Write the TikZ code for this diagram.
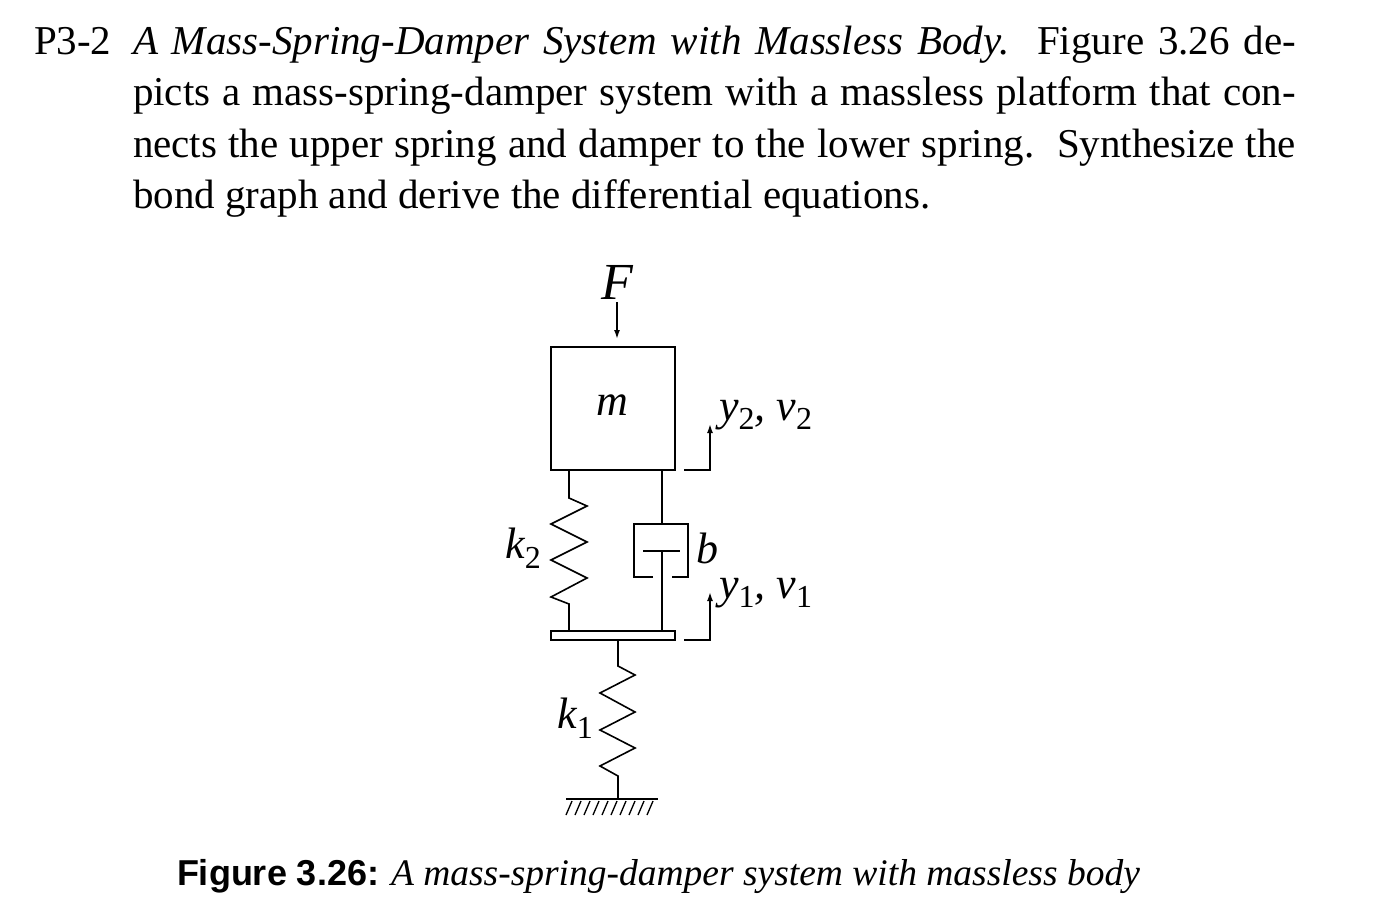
\documentclass[tikz,border=0pt]{standalone}
\usepackage{fontspec}
\setmainfont{Liberation Serif}
\newfontfamily\capsans{Liberation Sans}
\usetikzlibrary{arrows.meta}
\newcommand{\sbs}[1]{\raisebox{-0.22em}{\upshape\fontsize{32}{32}\selectfont #1}}
\begin{document}
\begin{tikzpicture}[x=1pt,y=-1pt,line width=2pt,
  body/.style={font=\fontsize{41}{51}\selectfont,inner sep=0pt,anchor=base west},
  lab/.style={font=\fontsize{44}{44}\selectfont\itshape,inner sep=0pt},
  arr/.style={-{Latex[length=9pt,width=6pt]},line width=1.6pt}]
\useasboundingbox (0,0) rectangle (1392,920);
% paragraph
\node[body] (p0) at (33,55) {P3-2};
\node[body] (l1) at (132,55) {\parbox[b]{1163pt}{\parfillskip=0pt \textit{A Mass-Spring-Damper System with Massless Body.}\ \ Figure 3.26 de-\par}};
\node[body] (l2) at (132,106) {\parbox[b]{1163pt}{\parfillskip=0pt picts a mass-spring-damper system with a massless platform that con-\par}};
\node[body] (l3) at (132,158) {\parbox[b]{1163pt}{\parfillskip=0pt nects the upper spring and damper to the lower spring.\ \ Synthesize the\par}};
\node[body] (l4) at (132,208) {bond graph and derive the differential equations.};
% F
\node[lab,font=\fontsize{52}{52}\selectfont\itshape] (F) at (617,282) {F};
\coordinate (fa) at (617,302);
\coordinate (fb) at (617,339);
\draw[arr] (fa) -- (fb);
% mass
\node[draw,minimum width=124pt,minimum height=123pt,inner sep=0pt] (m) at (613,408.5) {};
\node[lab] (mt) at (612,405) {m};
% y2
\coordinate (y2a) at (684,470); \coordinate (y2b) at (710,470); \coordinate (y2c) at (710,424);
\draw[arr] (y2a) -- (y2b) -- (y2c);
\node[lab,anchor=west] (y2) at (718,415) {y\sbs{2}, v\sbs{2}};
% k2 spring
\draw[line width=1.6pt] (569,470) -- (569,498) -- (587,506) -- (551,524) -- (587,542) -- (551,560) -- (587,578) -- (551,597) -- (569,604) -- (569,631);
\node[lab] (k2) at (523,548) {k\sbs{2}};
% damper
\draw[line width=1.6pt] (662,470) -- (662,524);
\draw[line width=1.6pt] (653,577) -- (634,577) -- (634,524) -- (688,524) -- (688,577) -- (672,577);
\draw[line width=1.6pt] (643,551) -- (680,551);
\draw[line width=1.6pt] (662,551) -- (662,631);
\node[lab] (b) at (707,548) {b};
% plate
\node[draw,line width=1.6pt,minimum width=124pt,minimum height=9pt,inner sep=0pt] (plate) at (613,635.5) {};
% y1
\coordinate (y1a) at (684,640); \coordinate (y1b) at (710,640); \coordinate (y1c) at (710,592);
\draw[arr] (y1a) -- (y1b) -- (y1c);
\node[lab,anchor=west] (y1) at (718,593) {y\sbs{1}, v\sbs{1}};
% k1 spring
\draw[line width=1.6pt] (618,640) -- (618,666) -- (635,675) -- (600,693) -- (635,712) -- (600,730) -- (635,748) -- (600,766) -- (618,776) -- (618,799);
\node[lab] (k1) at (575,718) {k\sbs{1}};
% ground
\draw[line width=2.4pt] (566,799) -- (658,799);
\foreach \i in {0,...,9} {\draw[line width=1.3pt] (572+9*\i,801) -- (566+9*\i,815);}
% caption
\node[inner sep=0pt,anchor=base west] (cap) at (176,885) {{\capsans\bfseries\fontsize{36}{36}\selectfont Figure 3.26:}\hspace{12pt}{\fontsize{37.5}{38}\selectfont\itshape A mass-spring-damper system with massless body}};
\end{tikzpicture}
\end{document}
